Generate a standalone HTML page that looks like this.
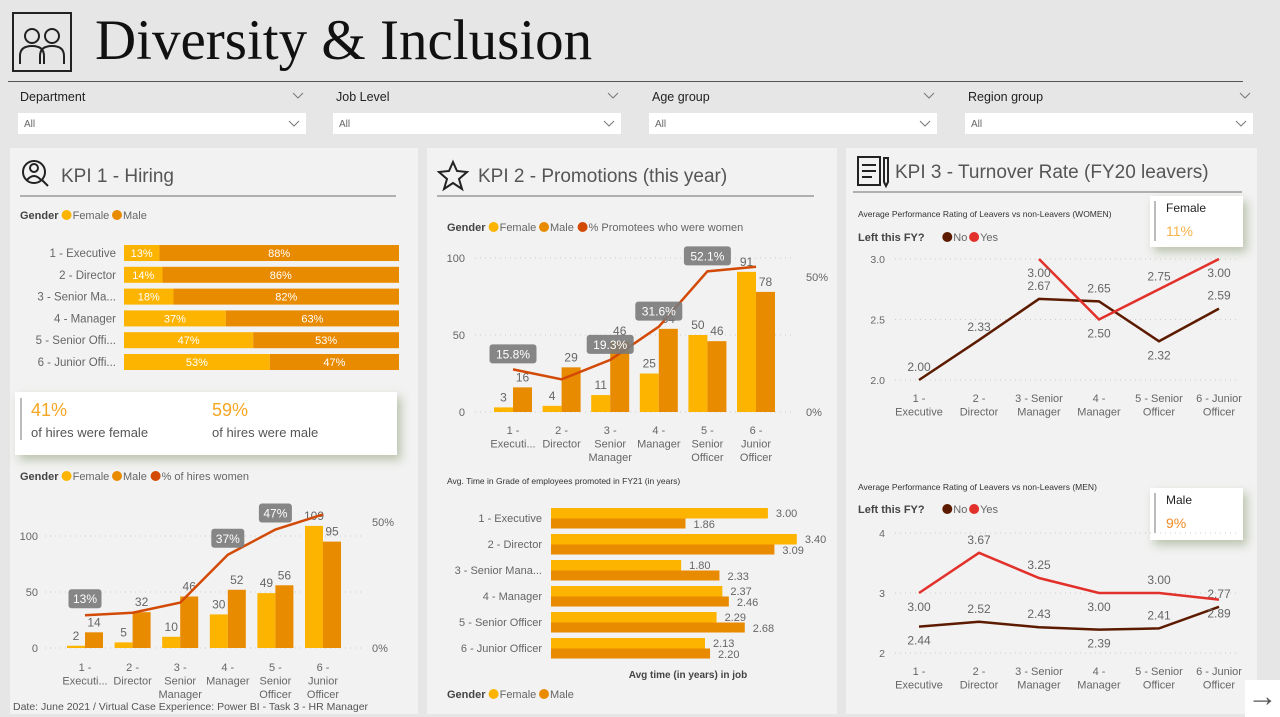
<!DOCTYPE html>
<html><head><meta charset="utf-8">
<style>
body{margin:0;width:1280px;height:717px;overflow:hidden;background:#e6e6e6;font-family:"Liberation Sans",sans-serif;position:relative}
.abs{position:absolute}
.panel{position:absolute;background:#f2f2f2;top:148px;height:566px}
.slab{position:absolute;top:90px;font-size:12.5px;color:#222}
.sbox{position:absolute;top:113px;height:21px;width:288px;background:#fff;font-size:10px;color:#666}
.sbox span{position:absolute;left:6px;top:6px}
.chev{position:absolute}
.card{position:absolute;background:#fff;box-shadow:4px 5px 9px rgba(120,140,90,.45)}
</style></head><body>
<div class="abs" style="left:12px;top:12px;width:56px;height:56px;border:2px solid #222">
<svg width="56" height="56"><g fill="none" stroke="#222" stroke-width="2"><circle cx="18" cy="22" r="7"/><circle cx="38" cy="22" r="7"/><path d="M6 50v-8q0-10 12-10q12 0 12 10v8M26 50v-8q0-10 12-10q12 0 12 10v8"/></g></svg></div>
<div class="abs" style="left:95px;top:8px;font-family:'Liberation Serif',serif;font-size:57px;color:#111">Diversity &amp; Inclusion</div>
<div class="abs" style="left:8px;top:81px;width:1235px;height:1px;background:#555"></div>

<div class="slab" style="left:20px">Department</div>
<div class="slab" style="left:336px">Job Level</div>
<div class="slab" style="left:652px">Age group</div>
<div class="slab" style="left:968px">Region group</div>
<svg class="chev" style="left:292px;top:92px" width="12" height="8"><polyline points="1,1 6,6 11,1" fill="none" stroke="#777"/></svg>
<svg class="chev" style="left:607px;top:92px" width="12" height="8"><polyline points="1,1 6,6 11,1" fill="none" stroke="#777"/></svg>
<svg class="chev" style="left:923px;top:92px" width="12" height="8"><polyline points="1,1 6,6 11,1" fill="none" stroke="#777"/></svg>
<svg class="chev" style="left:1239px;top:92px" width="12" height="8"><polyline points="1,1 6,6 11,1" fill="none" stroke="#777"/></svg>
<div class="sbox" style="left:18px"><span>All</span><svg class="chev" style="right:6px;top:7px" width="12" height="8"><polyline points="1,1 6,6 11,1" fill="none" stroke="#777"/></svg></div>
<div class="sbox" style="left:333px"><span>All</span><svg class="chev" style="right:6px;top:7px" width="12" height="8"><polyline points="1,1 6,6 11,1" fill="none" stroke="#777"/></svg></div>
<div class="sbox" style="left:649px"><span>All</span><svg class="chev" style="right:6px;top:7px" width="12" height="8"><polyline points="1,1 6,6 11,1" fill="none" stroke="#777"/></svg></div>
<div class="sbox" style="left:965px"><span>All</span><svg class="chev" style="right:6px;top:7px" width="12" height="8"><polyline points="1,1 6,6 11,1" fill="none" stroke="#777"/></svg></div>

<div class="panel" style="left:10px;width:408px"></div>
<div class="panel" style="left:427px;width:410px"></div>
<div class="panel" style="left:846px;width:411px"></div>

<div class="card" style="left:15px;top:392px;width:382px;height:63px">
<div class="abs" style="left:5px;top:6px;width:2px;height:42px;background:#bbb"></div>
<div class="abs" style="left:16px;top:8px;font-size:18px;color:#f5a623">41%</div>
<div class="abs" style="left:16px;top:33px;font-size:13px;color:#555">of hires were female</div>
<div class="abs" style="left:197px;top:8px;font-size:18px;color:#f5a623">59%</div>
<div class="abs" style="left:197px;top:33px;font-size:13px;color:#555">of hires were male</div>
</div>
<div class="card" style="left:1150px;top:196px;width:93px;height:51px">
<div class="abs" style="left:4px;top:5px;width:2px;height:40px;background:#bbb"></div>
<div class="abs" style="left:16px;top:5px;font-size:12px;color:#222">Female</div>
<div class="abs" style="left:16px;top:27px;font-size:14px;color:#f7b24a">11%</div></div>
<div class="card" style="left:1150px;top:488px;width:93px;height:52px">
<div class="abs" style="left:4px;top:5px;width:2px;height:40px;background:#bbb"></div>
<div class="abs" style="left:16px;top:5px;font-size:12px;color:#222">Male</div>
<div class="abs" style="left:16px;top:27px;font-size:14px;color:#f08a24">9%</div></div>
<div class="abs" style="left:1245px;top:680px;width:35px;height:37px;background:#fff;font-size:30px;color:#555;text-align:center;line-height:34px">→</div>

<svg id="c" class="abs" style="left:0;top:0" width="1280" height="717" font-family="Liberation Sans, sans-serif"></svg>
<script>
const levels=['1 - Executive','2 - Director','3 - Senior Ma...','4 - Manager','5 - Senior Offi...','6 - Junior Offi...'];
const hireFemalePct=[13,14,18,37,47,53];
const hireMalePct=[88,86,82,63,53,47];
const hireFemale=[2,5,10,30,49,109];
const hireMale=[14,32,46,52,56,95];
const hirePctWomen=[13,14,18,37,47,53];
const promoFemale=[3,4,11,25,50,91];
const promoMale=[16,29,46,54,46,78];
const promoPctWomen=[15.8,12.1,19.3,31.6,52.1,53.8];
const timeLevels=['1 - Executive','2 - Director','3 - Senior Mana...','4 - Manager','5 - Senior Officer','6 - Junior Officer'];
const timeFemale=[3.00,3.40,1.80,2.37,2.29,2.13];
const timeMale=[1.86,3.09,2.33,2.46,2.68,2.20];
const womenNo=[2.00,2.33,2.67,2.65,2.32,2.59];
const womenYes=[null,null,3.00,2.50,2.75,3.00];
const menNo=[2.44,2.52,2.43,2.39,2.41,2.77];
const menYes=[3.00,3.67,3.25,3.00,3.00,2.89];
const comboTicks=['0','50','100'];
const pctTicks=['0%','50%'];

const F='#fdb400',M='#e98b00',L='#d24a06',NO='#5c1b00',YES='#e2302a',G='#666';
const NS='http://www.w3.org/2000/svg',svg=document.getElementById('c');
function mk(t,a){const e=document.createElementNS(NS,t);for(const k in a)e.setAttribute(k,a[k]);svg.appendChild(e);return e;}
function tx(x,y,s,a){const e=mk('text',Object.assign({x:x,y:y,'font-size':11,fill:G},a||{}));e.textContent=s;return e;}

let e;
e=tx(61,182,'KPI 1 - Hiring',{'font-size':19,fill:'#555'});

e=tx(478,182,'KPI 2 - Promotions (this year)',{'font-size':19,fill:'#555'});

e=tx(895,178,'KPI 3 - Turnover Rate (FY20 leavers)',{'font-size':19,fill:'#555'});

[[20,396,196],[437,814,196],[853,1242,192]].forEach(r=>{e=mk('line',{x1:r[0],x2:r[1],y1:r[2],y2:r[2],stroke:'#999','stroke-width':1.5});
});
e=mk('g',{fill:'none',stroke:'#222','stroke-width':2});
e.innerHTML='<circle cx="34" cy="172" r="11"/><circle cx="34" cy="168" r="4"/><path d="M27 180q7-8 14 0M42 180l6 6"/>';
e=mk('path',{d:'M453 162l4 9 10 1-8 7 3 10-9-6-9 6 3-10-8-7 10-1z',fill:'none',stroke:'#222','stroke-width':2});

e=mk('g',{fill:'none',stroke:'#222','stroke-width':2});
e.innerHTML='<rect x="858" y="157" width="22" height="28"/><path d="M862 165h14M862 171h14M862 177h10M884 158v24l2 4 2-4v-24z"/>';

function legend(x,y,items,title){
  e=tx(x,y+4,title,{'font-weight':'bold',fill:'#444'});
  let cx=x+title.length*6.1+5;
  items.forEach(it=>{e=mk('circle',{cx:cx+5,cy:y,r:5,fill:it[1]});
    e=tx(cx+11,y+4,it[0]);cx+=it[0].length*5.9+15;});
}
legend(20,215,[['Female',F],['Male',M]],'Gender');
const sx0=124,sw=275;
levels.forEach((lv,i)=>{const yc=253+i*21.8,tot=hireFemalePct[i]+hireMalePct[i],wf=sw*hireFemalePct[i]/tot;
  e=tx(116,yc+4,lv,{'text-anchor':'end','font-size':11.5});
  e=mk('rect',{x:sx0,y:yc-8,width:wf,height:16,fill:F});
  e=mk('rect',{x:sx0+wf,y:yc-8,width:sw-wf,height:16,fill:M});
  e=tx(sx0+wf/2,yc+4,hireFemalePct[i]+'%',{'text-anchor':'middle',fill:'#fff'});
  e=tx(sx0+wf+(sw-wf)/2,yc+4,hireMalePct[i]+'%',{'text-anchor':'middle',fill:'#fff'});
});

const comboX=[['1 -','Executi...'],['2 -','Director'],['3 -','Senior','Manager'],['4 -','Manager'],['5 -','Senior','Officer'],['6 -','Junior','Officer']];
function combo(c){
  const yv=v=>c.y0-v*c.k, yp=p=>c.y0-p*c.kp, xc=i=>c.x0+i*c.step;
  comboTicks.forEach(t=>{const y=yv(+t);
    e=mk('line',{x1:c.gx1,x2:c.gx2,y1:y,y2:y,stroke:'#ccc','stroke-dasharray':'1 4'});
    e=tx(c.lx,y+4,t,{'text-anchor':'end'});});
  pctTicks.forEach(t=>{e=tx(c.rx,yp(parseFloat(t))+4,t);});
  c.f.forEach((v,i)=>{const x=xc(i);
    e=mk('rect',{x:x-c.bw,y:yv(v),width:c.bw,height:v*c.k,fill:F});
    e=mk('rect',{x:x,y:yv(c.m[i]),width:c.bw,height:c.m[i]*c.k,fill:M});
    e=tx(x-c.bw/2,yv(v)-6,String(v),{'text-anchor':'middle','font-size':12});
    e=tx(x+c.bw/2,yv(c.m[i])-6,String(c.m[i]),{'text-anchor':'middle','font-size':12});
    comboX[i].forEach((s,j)=>{e=tx(x,c.xy+j*13.5,s,{'text-anchor':'middle'});});
  });
  e=mk('polyline',{points:c.p.map((v,i)=>xc(i)+','+yp(v)).join(' '),fill:'none',stroke:L,'stroke-width':2.5});
  
  c.show.forEach(i=>{const s=c.fmt(c.p[i]),w=s.length*7+12,x=xc(i),y=yp(c.p[i])-c.boff;
    e=mk('rect',{x:x-w/2,y:y-10,width:w,height:19,rx:3,fill:'#7a7a7a',opacity:0.9});
    e=tx(x,y+4,s,{'text-anchor':'middle',fill:'#fff','font-size':12});});
}
legend(20,476,[['Female',F],['Male',M],['% of hires women',L]],'Gender');
combo({x0:85,step:47.6,bw:18,y0:648,k:1.12,kp:2.52,f:hireFemale,m:hireMale,p:hirePctWomen,gx1:45,gx2:362,lx:38,rx:372,xy:671,show:[0,3,4],boff:16,fmt:v=>v+'%'});
e=tx(13,710,'Date: June 2021 / Virtual Case Experience: Power BI - Task 3 - HR Manager',{'font-size':10.5,fill:'#555'});


legend(447,227,[['Female',F],['Male',M],['% Promotees who were women',L]],'Gender');
combo({x0:513,step:48.6,bw:19,y0:412,k:1.54,kp:2.7,f:promoFemale,m:promoMale,p:promoPctWomen,gx1:475,gx2:795,lx:465,rx:806,xy:434,show:[0,2,3,4],boff:15,fmt:v=>v.toFixed(1)+'%'});

e=tx(447,484,'Avg. Time in Grade of employees promoted in FY21 (in years)',{'font-size':8.5,fill:'#333'});

const tx0=551,tk=72.3;
timeLevels.forEach((lv,i)=>{const y=508+i*26;
  e=tx(542,y+14,lv,{'text-anchor':'end'});
  e=mk('rect',{x:tx0,y:y,width:timeFemale[i]*tk,height:10.5,fill:F});
  e=mk('rect',{x:tx0,y:y+10.5,width:timeMale[i]*tk,height:10,fill:M});
  e=tx(tx0+timeFemale[i]*tk+8,y+9,timeFemale[i].toFixed(2));
  e=tx(tx0+timeMale[i]*tk+8,y+20,timeMale[i].toFixed(2));
});
e=tx(688,678,'Avg time (in years) in job',{'text-anchor':'middle','font-size':10,'font-weight':'bold',fill:'#444'});

legend(447,694,[['Female',F],['Male',M]],'Gender');

const lineX=[['1 -','Executive'],['2 -','Director'],['3 - Senior','Manager'],['4 -','Manager'],['5 - Senior','Officer'],['6 - Junior','Officer']];
const womenNoPos=['a','a','a','a','b','a'],womenYesPos=['a','a','b','b','a','b'];
const menNoPos=['b','a','a','b','a','a'],menYesPos=['b','a','a','b','a','b'];
function lineChart(c){
  const yv=v=>c.y0-(v-c.min)*c.k, xc=i=>919+i*60;
  c.ticks.forEach(t=>{const y=yv(+t);
    e=mk('line',{x1:895,x2:1240,y1:y,y2:y,stroke:'#ccc','stroke-dasharray':'1 4'});
    e=tx(885,y+4,t,{'text-anchor':'end','font-size':10.5});});
  lineX.forEach((s,i)=>s.forEach((t,j)=>{e=tx(xc(i),c.xy+j*13.5,t,{'text-anchor':'middle'});}));
  [[c.no,NO,c.noPos,'line-no'],[c.yes,YES,c.yesPos,'line-yes']].forEach(s=>{
    const pts=[];s[0].forEach((v,i)=>{if(v!=null)pts.push(xc(i)+','+yv(v));});
    e=mk('polyline',{points:pts.join(' '),fill:'none',stroke:s[1],'stroke-width':2.5});
    s[0].forEach((v,i)=>{if(v==null)return;e=tx(xc(i),yv(v)+(s[2][i]=='a'?-9:18),v.toFixed(2),{'text-anchor':'middle','font-size':12});
      });
  });
}
e=tx(858,217,'Average Performance Rating of Leavers vs non-Leavers (WOMEN)',{'font-size':8.5,fill:'#333'});

legend(858,237,[['No',NO],['Yes',YES]],'Left this FY?');
lineChart({y0:380,min:2,k:121,ticks:['2.0','2.5','3.0'],no:womenNo,yes:womenYes,noPos:womenNoPos,yesPos:womenYesPos,xy:402});
e=tx(858,490,'Average Performance Rating of Leavers vs non-Leavers (MEN)',{'font-size':8.5,fill:'#333'});

legend(858,509,[['No',NO],['Yes',YES]],'Left this FY?');
lineChart({y0:653,min:2,k:60,ticks:['2','3','4'],no:menNo,yes:menYes,noPos:menNoPos,yesPos:menYesPos,xy:675});
</script>
</body></html>
